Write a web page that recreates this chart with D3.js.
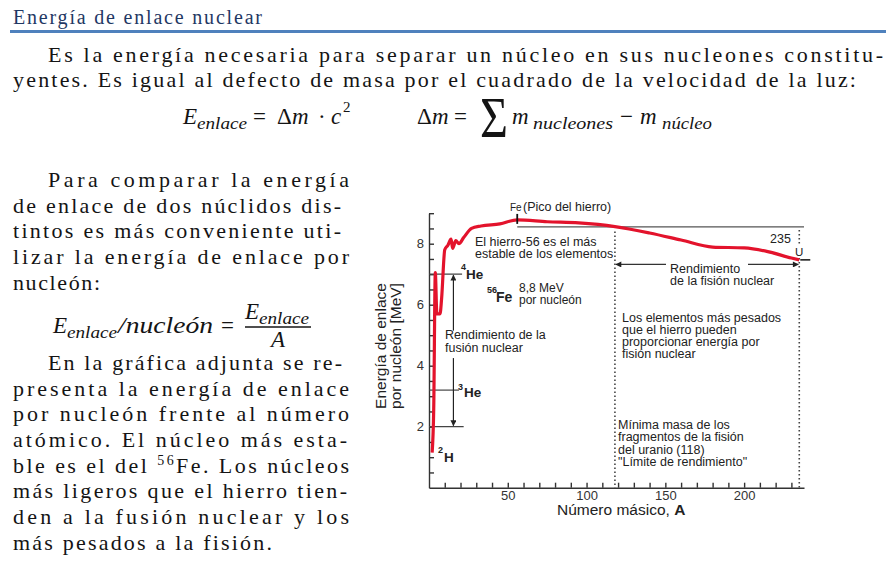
<!DOCTYPE html>
<html>
<head>
<meta charset="utf-8">
<script src="https://d3js.org/d3.v7.min.js"></script>
<style>
  body { margin: 0; background: #fff; }
  svg { display: block; }
  .serif { font-family: "Liberation Serif", "Times New Roman", "DejaVu Serif", serif; }
  .sans { font-family: "Liberation Sans", Arial, Helvetica, sans-serif; }
</style>
</head>
<body>
<div id="page"></div>
<script>
// values: mass number A and binding energy per nucleon (MeV)
var massNumber    = [2, 3, 4, 5, 7, 8, 10, 12, 14, 15, 17, 19, 22, 27, 33, 45, 56, 75, 95, 118, 140, 160, 180, 200, 215, 230, 235];
var bindingEnergy = [1.15, 2.6, 7.05, 5.7, 5.7, 6.2, 7.8, 7.95, 8.15, 7.85, 8.1, 8.0, 8.2, 8.5, 8.58, 8.65, 8.78, 8.72, 8.68, 8.56, 8.35, 8.12, 7.89, 7.86, 7.74, 7.53, 7.47];
var xTickLabels = [50, 100, 150, 200];
var yTickLabels = [2, 4, 6, 8];
var markedA = [56, 118, 235];          // Fe peak, fission limit, uranium
var markedE = [7.0, 3.2, 2.0, 8.55];   // 4He, 3He, 2 MeV line, reference level

var svg = d3.select("#page").append("svg")
  .attr("width", 893)
  .attr("height", 569);

// ---------- header ----------
svg.append("text")
  .attr("class", "serif")
  .attr("x", 13).attr("y", 24)
  .attr("textLength", 249).attr("lengthAdjust", "spacing")
  .style("font-size", "20px")
  .style("fill", "#1f3864")
  .text("Energía de enlace nuclear");

svg.append("line")
  .attr("x1", 10).attr("x2", 886).attr("y1", 31.5).attr("y2", 31.5)
  .style("stroke", "#4f81bd").style("stroke-width", 3);

// justified body lines
var bodyLines = [
  {t: "Es la energía necesaria para separar un núcleo en sus nucleones constitu-", x: 48, y: 62, w: 835},
  {t: "yentes. Es igual al defecto de masa por el cuadrado de la velocidad de la luz:", x: 13, y: 87, w: 843},
  {t: "Para comparar la energía", x: 48, y: 187, w: 301},
  {t: "de enlace de dos núclidos dis-", x: 13, y: 213, w: 328},
  {t: "tintos es más conveniente uti-", x: 13, y: 238, w: 328},
  {t: "lizar la energía de enlace por", x: 13, y: 264, w: 336},
  {t: "nucleón:", x: 13, y: 290, w: 87},
  {t: "En la gráfica adjunta se re-", x: 48, y: 370, w: 294},
  {t: "presenta la energía de enlace", x: 13, y: 396, w: 336},
  {t: "por nucleón frente al número", x: 13, y: 421, w: 336},
  {t: "atómico. El núcleo más esta-", x: 13, y: 447, w: 334},
  {t: null, x: 13, y: 473, w: 336},
  {t: "más ligeros que el hierro tien-", x: 13, y: 498, w: 334},
  {t: "den a la fusión nuclear y los", x: 13, y: 524, w: 336},
  {t: "más pesados a la fisión.", x: 13, y: 550, w: 259}
];

bodyLines.forEach(function(l) {
  var t = svg.append("text")
    .attr("class", "serif")
    .attr("x", l.x).attr("y", l.y)
    .attr("textLength", l.w).attr("lengthAdjust", "spacing")
    .style("font-size", "22px")
    .style("fill", "#141414");
  if (l.t) {
    t.text(l.t);
  } else {
    t.append("tspan").text("ble es el del ");
    t.append("tspan").attr("dy", -8).style("font-size", "14px").text("56");
    t.append("tspan").attr("dy", 8).text("Fe. Los núcleos");
  }
});

// ---------- formulas ----------
function piece(x, y, s, size, italic, len) {
  var t = svg.append("text")
    .attr("class", "serif")
    .attr("x", x).attr("y", y)
    .style("font-size", size + "px")
    .style("font-style", italic ? "italic" : "normal")
    .style("fill", "#141414")
    .text(s);
  if (len) t.attr("textLength", len).attr("lengthAdjust", "spacingAndGlyphs");
  return t;
}

// E_enlace = Δm · c²
piece(183, 124, "E", 23, true);
piece(197, 129, "enlace", 16, true, 50);
piece(253, 124, "=", 23, false);
piece(277, 124, "Δ", 23, false);
piece(292, 124, "m", 23, true);
piece(318, 124, "·", 23, false);
piece(331, 124, "c", 23, true);
piece(343, 112, "2", 15, false);

// Δm = Σ m_nucleones − m_núcleo
piece(417, 124, "Δ", 23, false);
piece(432, 124, "m", 23, true);
piece(454, 124, "=", 23, false);
piece(480, 137, "Σ", 58, false, 28);
piece(512, 124, "m", 23, true);
piece(533, 129, "nucleones", 16, true, 80);
piece(620, 124, "−", 23, false);
piece(640, 124, "m", 23, true);
piece(662, 129, "núcleo", 16, true, 50);

// E_enlace/nucleón = E_enlace / A
piece(53, 333, "E", 23, true);
piece(67, 338, "enlace", 16, true, 50);
piece(118, 333, "/nucleón", 23, true, 95);
piece(221, 333, "=", 23, false);
piece(245, 319, "E", 23, true);
piece(259, 324, "enlace", 16, true, 50);
svg.append("line")
  .attr("x1", 245).attr("x2", 311).attr("y1", 327).attr("y2", 327)
  .style("stroke", "#141414").style("stroke-width", 1.3);
piece(278, 347, "A", 23, true).attr("text-anchor", "middle");

// ---------- chart ----------
var x = d3.scaleLinear().domain([0, 238]).range([429, 804]);
var y = d3.scaleLinear().domain([0, 9]).range([487.7, 213.2]);

var chart = svg.append("g").attr("class", "sans");

var defs = svg.append("defs");
function arrowMarker(id, orient) {
  defs.append("marker")
    .attr("id", id)
    .attr("viewBox", "0 0 10 10")
    .attr("refX", 9).attr("refY", 5)
    .attr("markerWidth", 8).attr("markerHeight", 6)
    .attr("markerUnits", "userSpaceOnUse")
    .attr("orient", orient)
    .append("path")
    .attr("d", "M0,0 L10,5 L0,10 Z")
    .style("fill", "#222");
}
arrowMarker("arrowEnd", "auto");
arrowMarker("arrowStart", "auto-start-reverse");

// axes: minor ticks without labels, then labelled ticks
function styleAxis(g) {
  g.selectAll("path, line").style("stroke", "#333").style("stroke-width", 1.4);
  g.selectAll("text").attr("class", "sans").style("font-size", "13px").style("fill", "#333");
}
var gx = chart.append("g").attr("transform", "translate(0," + y(0) + ")")
  .call(d3.axisBottom(x).tickValues(d3.range(10, 231, 10)).tickSize(-5).tickSizeOuter(0));
gx.selectAll("text").remove();
var gxl = chart.append("g").attr("transform", "translate(0," + y(0) + ")")
  .call(d3.axisBottom(x).tickValues(xTickLabels).tickSize(0).tickPadding(3).tickFormat(d3.format("d")));
gxl.select(".domain").remove();
var gy = chart.append("g").attr("transform", "translate(" + x(0) + ",0)")
  .call(d3.axisLeft(y).tickValues(d3.range(0.5, 9.01, 0.5)).tickSize(-5).tickSizeOuter(0));
gy.selectAll("text").remove();
var gyl = chart.append("g").attr("transform", "translate(" + x(0) + ",0)")
  .call(d3.axisLeft(y).tickValues(yTickLabels).tickSize(0).tickPadding(5).tickFormat(d3.format("d")));
gyl.select(".domain").remove();
[gx, gxl, gy, gyl].forEach(styleAxis);

// axis titles
var xt = chart.append("text")
  .attr("x", 557).attr("y", 515)
  .style("font-size", "15.5px").style("fill", "#222");
xt.append("tspan").text("Número másico, ");
xt.append("tspan").style("font-weight", "bold").text("A");

chart.append("text")
  .attr("transform", "translate(386,346) rotate(-90)")
  .attr("text-anchor", "middle")
  .style("font-size", "15.5px").style("fill", "#222")
  .text("Energía de enlace");
chart.append("text")
  .attr("transform", "translate(401,346) rotate(-90)")
  .attr("text-anchor", "middle")
  .style("font-size", "15.5px").style("fill", "#222")
  .text("por nucleón [MeV]");

// reference lines
chart.append("line")
  .attr("x1", x(markedA[0])).attr("x2", x(238))
  .attr("y1", y(markedE[3])).attr("y2", y(markedE[3]))
  .style("stroke", "#555").style("stroke-width", 1.3);
[[markedE[0], 21], [markedE[1], 19], [markedE[2], 22]].forEach(function(r) {
  chart.append("line")
    .attr("x1", x(0)).attr("x2", x(r[1]))
    .attr("y1", y(r[0])).attr("y2", y(r[0]))
    .style("stroke", "#444").style("stroke-width", 1.2);
});

// dotted verticals at A=118 and A=235
[[markedA[1], 8.4], [markedA[2], 8.45]].forEach(function(d) {
  chart.append("line")
    .attr("x1", x(d[0])).attr("x2", x(d[0]))
    .attr("y1", y(d[1])).attr("y2", y(0))
    .style("stroke", "#444").style("stroke-width", 1.6)
    .style("stroke-dasharray", "1.5,2.5");
});

// fusion arrows
chart.append("line")
  .attr("x1", x(15.5)).attr("x2", x(15.5))
  .attr("y1", y(5.15)).attr("y2", y(markedE[0]) + 1)
  .style("stroke", "#222").style("stroke-width", 1.2)
  .attr("marker-end", "url(#arrowEnd)");
chart.append("line")
  .attr("x1", x(15.5)).attr("x2", x(15.5))
  .attr("y1", y(4.25)).attr("y2", y(markedE[2]) - 1)
  .style("stroke", "#222").style("stroke-width", 1.2)
  .attr("marker-end", "url(#arrowEnd)");

// fission double arrow
chart.append("line")
  .attr("x1", x(markedA[1]) + 1).attr("x2", x(markedA[2]) - 1)
  .attr("y1", y(7.32)).attr("y2", y(7.32))
  .style("stroke", "#333").style("stroke-width", 1.2)
  .attr("marker-start", "url(#arrowStart)")
  .attr("marker-end", "url(#arrowEnd)");
chart.append("rect")
  .attr("x", 666).attr("y", 259).attr("width", 82).attr("height", 26)
  .style("fill", "#fff");

// binding energy curve
var line = d3.line()
  .x(function(d, i) { return x(massNumber[i]); })
  .y(function(d) { return y(d); })
  .curve(d3.curveMonotoneX);

chart.append("path")
  .datum(bindingEnergy)
  .attr("d", line)
  .style("fill", "none")
  .style("stroke", "#e3132c")
  .style("stroke-width", 3.2)
  .style("stroke-linejoin", "round");

// Fe tick and U tick
var feE = bindingEnergy[massNumber.indexOf(markedA[0])];
chart.append("line")
  .attr("x1", x(markedA[0])).attr("x2", x(markedA[0]))
  .attr("y1", y(feE) - 6).attr("y2", y(feE) + 4)
  .style("stroke", "#111").style("stroke-width", 1.8);
var uE = bindingEnergy[massNumber.indexOf(markedA[2])];
chart.append("line")
  .attr("x1", x(markedA[2]) + 1).attr("x2", x(markedA[2]) + 11)
  .attr("y1", y(uE)).attr("y2", y(uE))
  .style("stroke", "#111").style("stroke-width", 1.5);

// annotations
function note(xp, yp, s, size, weight) {
  return chart.append("text")
    .attr("x", xp).attr("y", yp)
    .style("font-size", (size || 12) + "px")
    .style("font-weight", weight || "normal")
    .style("fill", "#222")
    .text(s);
}

note(510, 211, "Fe", 10);
note(523, 211, "(Pico del hierro)", 12.5);
note(475, 246, "El hierro-56 es el más", 12.5);
note(475, 258, "estable de los elementos", 12.5);

note(461, 270, "4", 9, "bold");
note(466, 279, "He", 13.5, "bold");
note(458, 390, "3", 9, "bold");
note(464, 397, "He", 13.5, "bold");
note(438, 453, "2", 9, "bold");
note(444, 462, "H", 13.5, "bold");
note(487, 293, "56", 9, "bold");
note(496, 302, "Fe", 14, "bold");
note(519, 292, "8,8 MeV", 12);
note(519, 304, "por nucleón", 12);
note(445, 339, "Rendimiento de la", 12.5);
note(445, 352, "fusión nuclear", 12.5);

note(670, 272.5, "Rendimiento", 12.5);
note(670, 284.5, "de la fisión nuclear", 12.5);
note(622, 321.5, "Los elementos más pesados", 12.5);
note(622, 333.5, "que el hierro pueden", 12.5);
note(622, 345.5, "proporcionar energía por", 12.5);
note(622, 357.5, "fisión nuclear", 12.5);
note(618, 429, "Mínima masa de los", 12.5);
note(618, 441, "fragmentos de la fisión", 12.5);
note(618, 453.5, "del uranio (118)", 12.5);
note(618, 466, "\"Límite de rendimiento\"", 12.5);

note(770, 243, "235", 12.5);
chart.append("rect").attr("x", 795).attr("y", 246).attr("width", 8).attr("height", 10).style("fill", "#fff");
note(795, 256, "U", 11.5);
</script>
</body>
</html>
